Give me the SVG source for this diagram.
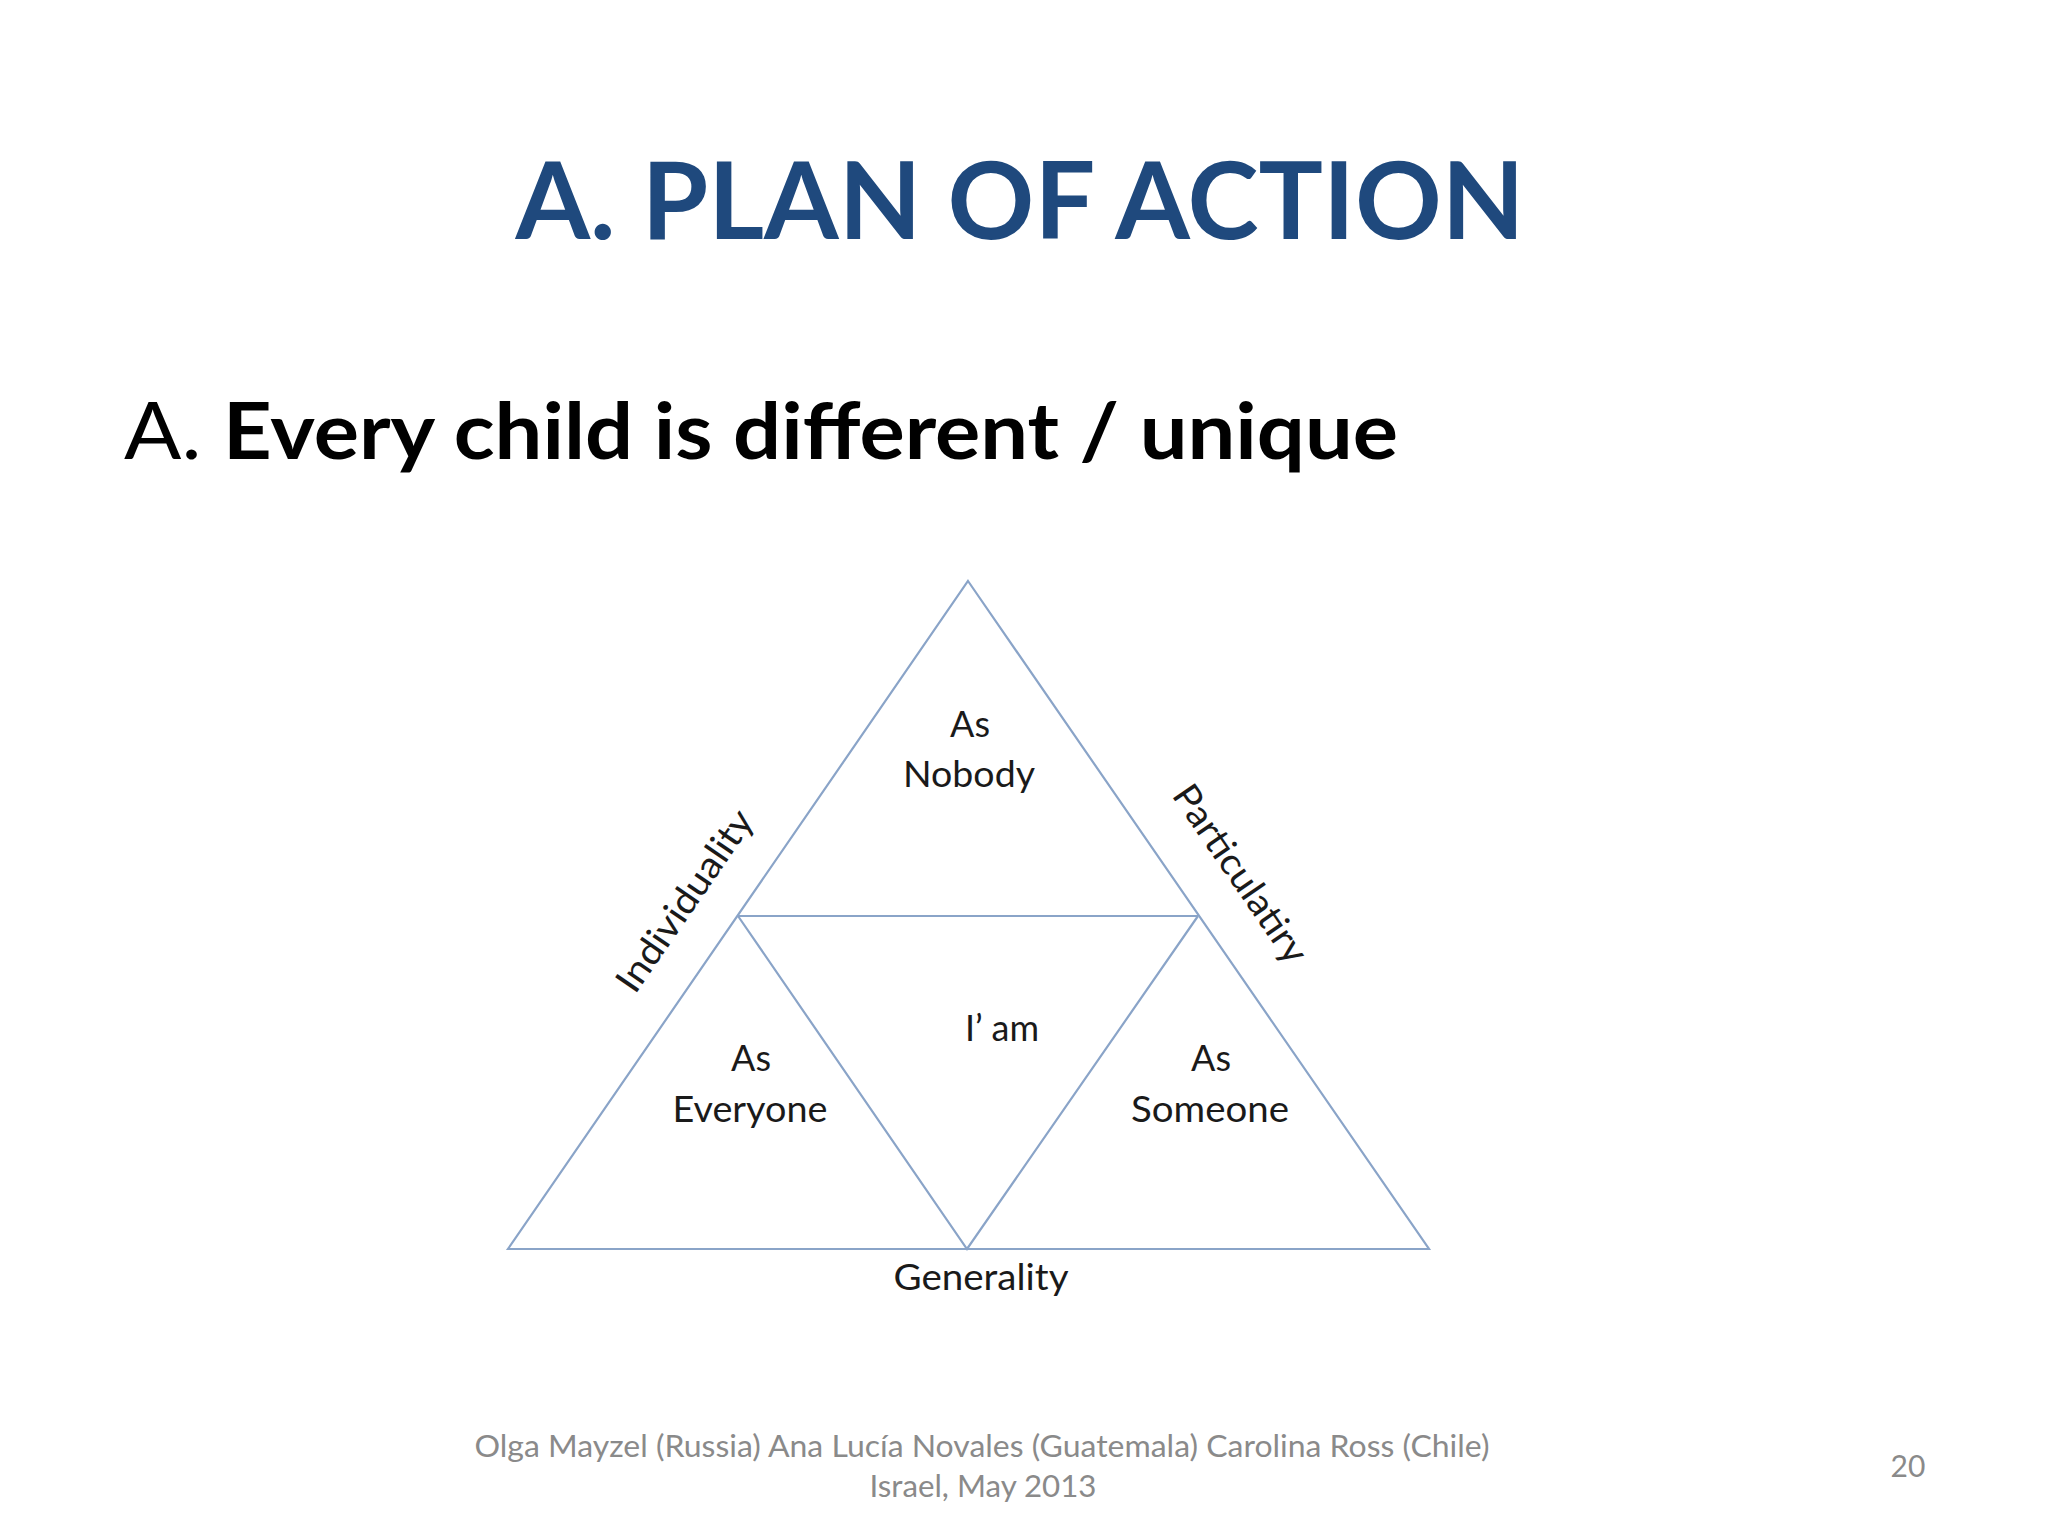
<svg xmlns="http://www.w3.org/2000/svg" width="2048" height="1536" viewBox="0 0 2048 1536">
<style>
.title{font-family:Lato,"Open Sans","Liberation Sans",sans-serif;font-weight:bold;fill:#1f497d;font-size:108px}
.sub{font-family:Lato,"Open Sans","Liberation Sans",sans-serif;fill:#000;font-size:79px}
.lbl{font-family:Lato,"Open Sans","Liberation Sans",sans-serif;fill:#1a1a1a;font-size:36px;text-anchor:middle}
.side{font-size:37px}
.foot{font-family:Lato,"Open Sans","Liberation Sans",sans-serif;fill:#8a8a8a;font-size:30px;text-anchor:middle}
.edge{stroke:#8aa4c8;stroke-width:2.2;fill:none;stroke-linejoin:miter}
</style>
<rect width="2048" height="1536" fill="#ffffff"/>
<g id="title"><text class="title" x="1020" y="239" text-anchor="middle" textLength="1009" lengthAdjust="spacingAndGlyphs">A. PLAN OF ACTION</text></g>
<g id="subtitle"><text class="sub" x="124" y="459" textLength="1274" lengthAdjust="spacingAndGlyphs">A. <tspan font-weight="bold">Every child is different / unique</tspan></text></g>
<g id="connectors">
<polygon class="edge" points="968,581 1429,1249 508,1249"/>
<line class="edge" x1="738" y1="916" x2="1198" y2="916"/>
<polyline class="edge" points="738,916 967,1249 1198,916"/>
</g>
<g id="node-nobody"><text class="lbl" x="970" y="737">As</text><text class="lbl" x="969" y="787" textLength="132" lengthAdjust="spacingAndGlyphs">Nobody</text></g>
<g id="node-iam"><text class="lbl" x="1002" y="1041">I’ am</text></g>
<g id="node-everyone"><text class="lbl" x="751" y="1071">As</text><text class="lbl" x="750" y="1122" textLength="155" lengthAdjust="spacingAndGlyphs">Everyone</text></g>
<g id="node-someone"><text class="lbl" x="1211" y="1071">As</text><text class="lbl" x="1210" y="1122" textLength="158" lengthAdjust="spacingAndGlyphs">Someone</text></g>
<g id="label-generality"><text class="lbl" x="981" y="1290" textLength="175" lengthAdjust="spacingAndGlyphs">Generality</text></g>
<g id="label-individuality"><text class="lbl side" transform="translate(695,908) rotate(-55.5)" x="0" y="0" textLength="212" lengthAdjust="spacingAndGlyphs">Individuality</text></g>
<g id="label-particulatiry"><text class="lbl side" transform="translate(1230,881) rotate(55.5)" x="0" y="0" textLength="208" lengthAdjust="spacingAndGlyphs">Particulatiry</text></g>
<g id="footer">
<text class="foot" x="982" y="1457" textLength="1015" lengthAdjust="spacingAndGlyphs">Olga Mayzel (Russia) Ana Lucía Novales (Guatemala) Carolina Ross (Chile)</text>
<text class="foot" x="983" y="1497" textLength="227" lengthAdjust="spacingAndGlyphs">Israel, May 2013</text>
<text class="foot" x="1908" y="1477">20</text>
</g>
</svg>
